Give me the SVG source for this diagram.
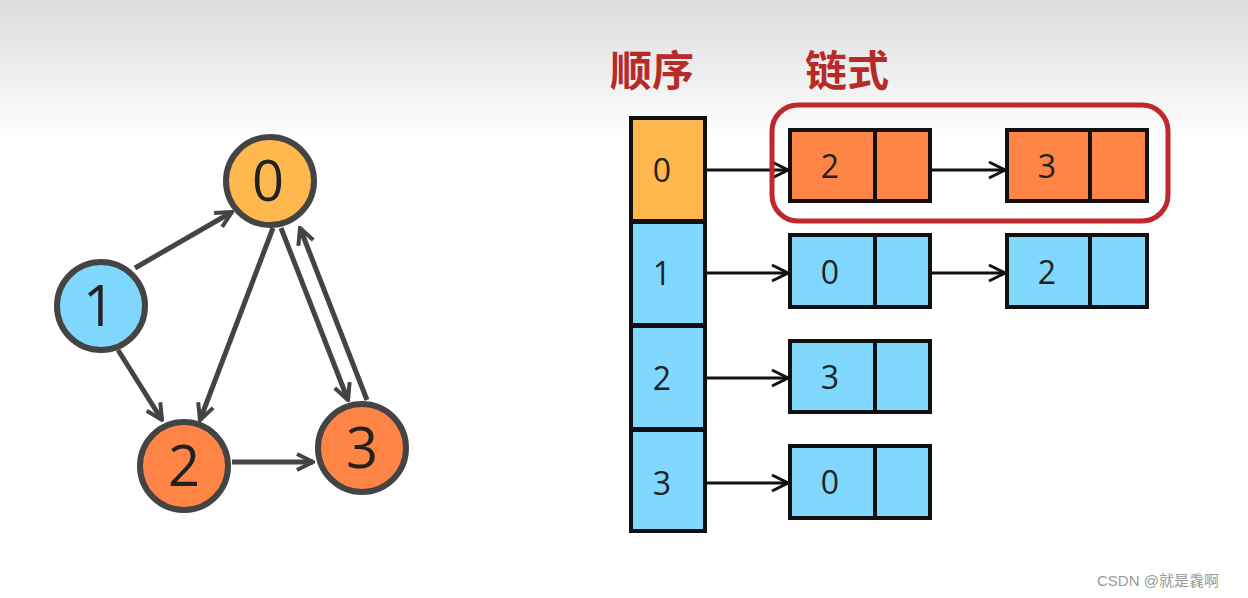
<svg xmlns="http://www.w3.org/2000/svg" width="1248" height="598" viewBox="0 0 1248 598">
<defs>
<linearGradient id="bg" x1="0" y1="0" x2="0" y2="1"><stop offset="0" stop-color="#dcdcdc"/><stop offset="1" stop-color="#ffffff"/></linearGradient>
<marker id="ch" viewBox="0 0 20 20" refX="18" refY="10" markerWidth="20" markerHeight="20" markerUnits="userSpaceOnUse" orient="auto"><path d="M2,2 L18,10 L2,18" fill="none" stroke="#444" stroke-width="4"/></marker>
<marker id="chb" viewBox="0 0 20 20" refX="18" refY="10" markerWidth="20" markerHeight="20" markerUnits="userSpaceOnUse" orient="auto"><path d="M2,2 L18,10 L2,18" fill="none" stroke="#111" stroke-width="3"/></marker>
</defs>
<style>
.c{stroke:#444;stroke-width:6}
.g{stroke:#444;stroke-width:5;fill:none;marker-end:url(#ch)}
.a{stroke:#111;stroke-width:3;fill:none;marker-end:url(#chb)}
.t{font-family:"Open Sans","Noto Sans",sans-serif;fill:#222;text-anchor:middle}
.big{font-size:56px}
.sm{font-size:32px}
.b{stroke:#111;stroke-width:4}
.or{fill:#ff8547}.bl{fill:#80d8ff}.ye{fill:#ffb84d}
.h{font-family:"Noto Sans CJK SC",sans-serif;font-size:42px;font-weight:bold;fill:#b82a2a}
</style>
<rect width="1248" height="598" fill="#fff"/>
<rect width="1248" height="140" fill="url(#bg)"/>
<g id="connectors">
<line class="g" x1="135" y1="268" x2="232" y2="212"/>
<line class="g" x1="118" y1="350" x2="162" y2="420"/>
<line class="g" x1="273" y1="228" x2="200" y2="420"/>
<line class="g" x1="281" y1="228" x2="348" y2="400"/>
<line class="g" x1="367" y1="400" x2="300" y2="228"/>
<line class="g" x1="232" y1="462" x2="313" y2="462"/>
<line class="a" x1="683" y1="170" x2="788" y2="170"/>
<line class="a" x1="903" y1="170" x2="1005" y2="170"/>
<line class="a" x1="683" y1="273" x2="788" y2="273"/>
<line class="a" x1="903" y1="273" x2="1005" y2="273"/>
<line class="a" x1="683" y1="378" x2="788" y2="378"/>
<line class="a" x1="683" y1="483" x2="788" y2="483"/>
</g>
<g id="n0"><circle class="c ye" cx="270" cy="181" r="44"/><text class="t big" x="268" y="201">0</text></g>
<g id="n1"><circle class="c bl" cx="101" cy="306" r="44"/><text class="t big" x="99" y="326">1</text></g>
<g id="n2"><circle class="c or" cx="184" cy="466" r="44"/><text class="t big" x="184" y="486">2</text></g>
<g id="n3"><circle class="c or" cx="362" cy="448" r="44"/><text class="t big" x="362" y="468">3</text></g>
<text class="h" x="610" y="86">顺序</text>
<text class="h" x="805" y="86">链式</text>
<g id="array">
<rect class="b ye" x="631" y="118" width="74" height="103"/>
<rect class="b bl" x="631" y="222" width="74" height="103"/>
<rect class="b bl" x="631" y="326" width="74" height="103"/>
<rect class="b bl" x="631" y="430" width="74" height="101"/>
<text class="t sm" x="662" y="182">0</text>
<text class="t sm" x="662" y="285">1</text>
<text class="t sm" x="662" y="390">2</text>
<text class="t sm" x="662" y="495">3</text>
</g>
<g id="l0a"><rect class="b or" x="790" y="130" width="140" height="71"/><line class="b" x1="875" y1="130" x2="875" y2="201"/><text class="t sm" x="830" y="178">2</text></g>
<g id="l0b"><rect class="b or" x="1007" y="130" width="140" height="71"/><line class="b" x1="1090" y1="130" x2="1090" y2="201"/><text class="t sm" x="1047" y="178">3</text></g>
<g id="l1a"><rect class="b bl" x="790" y="235" width="140" height="72"/><line class="b" x1="875" y1="235" x2="875" y2="307"/><text class="t sm" x="830" y="284">0</text></g>
<g id="l1b"><rect class="b bl" x="1007" y="235" width="140" height="72"/><line class="b" x1="1090" y1="235" x2="1090" y2="307"/><text class="t sm" x="1047" y="284">2</text></g>
<g id="l2a"><rect class="b bl" x="790" y="341" width="140" height="71"/><line class="b" x1="875" y1="341" x2="875" y2="412"/><text class="t sm" x="830" y="389">3</text></g>
<g id="l3a"><rect class="b bl" x="790" y="446" width="140" height="72"/><line class="b" x1="875" y1="446" x2="875" y2="518"/><text class="t sm" x="830" y="494">0</text></g>
<rect id="highlight" x="772" y="105" width="396" height="116" rx="26" fill="none" stroke="#c0282d" stroke-width="5"/>
<text x="1097" y="586" font-family="'Liberation Sans','Noto Sans CJK SC',sans-serif" font-size="15" fill="#999">CSDN @就是毳啊</text>
</svg>
